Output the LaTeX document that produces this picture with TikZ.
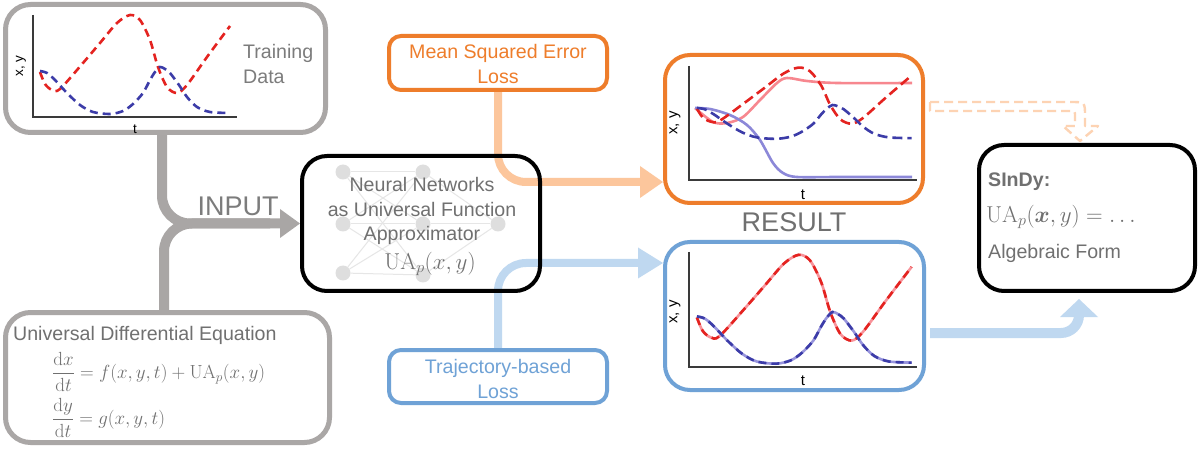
\RequirePackage{fix-cm}
\documentclass[tikz,border=0pt]{standalone}
\usepackage{amsmath}
\usepackage{bm}
\usepackage[no-math]{fontspec}
\setmainfont{Liberation Sans}
\usetikzlibrary{arrows.meta,calc}
\pgfdeclarelayer{bgfill}
\pgfdeclarelayer{background}
\pgfsetlayers{bgfill,background,main}
\definecolor{boxgray}{HTML}{AAA7A6}
\definecolor{arrgray}{HTML}{A9A6A5}
\definecolor{txtgray}{HTML}{707070}
\definecolor{txtlgray}{HTML}{7C7C7C}
\definecolor{orng}{HTML}{EE7D2B}
\definecolor{lorng}{HTML}{FCC69C}
\definecolor{llorng}{HTML}{FDD3B3}
\definecolor{blu}{HTML}{6FA2D6}
\definecolor{lblu}{HTML}{BFD8F0}
\definecolor{dred}{HTML}{E42320}
\definecolor{dblue}{HTML}{3C3CA8}
\definecolor{pinkc}{HTML}{F7878F}
\definecolor{lavc}{HTML}{8C88D8}
\definecolor{nngray}{HTML}{DEDEDE}
\definecolor{nnline}{HTML}{E6E6E6}
\definecolor{axc}{HTML}{3A3A3A}
\newcommand{\mkRedCurve}[1]{\draw[#1] plot[smooth] coordinates {(7,45) (12,33) (19,27) (27,28) (50,54) (67,74) (84,94) (97,102) (107,97) (117,77) (125,50) (134,30) (144,24) (154,32) (174,60) (197,91)};}
\newcommand{\mkBlueCurve}[1]{\draw[#1] plot[smooth] coordinates {(7,46) (14,44) (22,37) (34,24) (47,12) (60,5) (77,3) (90,6) (100,13) (110,24) (117,37) (122,45) (127,50) (132,48) (137,44) (146,32) (154,20) (164,10) (177,5) (197,4)};}
\begin{document}
\begin{tikzpicture}[x=1pt,y=-1pt,
  rbox/.style={draw, rounded corners=#1, inner sep=0pt},
  rbox/.default=25pt,
  lbl/.style={font=\fontsize{19.6}{24.5}\selectfont, text=txtgray, inner sep=0pt},
  biglbl/.style={font=\fontsize{27}{30}\selectfont, inner sep=0pt},
  axline/.style={draw=axc, line width=1.4pt},
  smalllbl/.style={font=\fontsize{15}{17}\selectfont, text=black, inner sep=0pt},
  tinylbl/.style={font=\fontsize{13.5}{15}\selectfont, text=black, inner sep=0pt},
  dcurve/.style={line width=2.6pt, dash pattern=on 8pt off 5pt},
  scurve/.style={line width=2.6pt},
  nnode/.style={circle, fill=nngray, minimum size=15pt, inner sep=0pt},
  nnedge/.style={draw=nnline, line width=1pt},
  grayarrow/.style={line width=10pt, draw=arrgray, rounded corners=28pt},
  orarrow/.style={line width=8pt, draw=lorng, rounded corners=28pt},
  blarrow/.style={line width=8pt, draw=lblu, rounded corners=28pt},
]
\useasboundingbox (0,0) rectangle (1200,449);
\begin{pgfonlayer}{bgfill}
\fill[white] (0,0) rectangle (1200,449);
\end{pgfonlayer}

% ---------- boxes ----------
\node[rbox, draw=boxgray, line width=5pt, minimum width=320pt, minimum height=128pt] (train) at (165.5,68.5) {};
\node[rbox, draw=boxgray, line width=5pt, minimum width=324pt, minimum height=130pt] (ude) at (167.5,377.5) {};
\node[rbox=12pt, draw=orng, line width=4pt, minimum width=218pt, minimum height=54pt] (mse) at (498,63) {};
\node[rbox=12pt, draw=blu, line width=4pt, minimum width=218pt, minimum height=53pt] (traj) at (498,376.5) {};
\node[rbox, draw=orng, line width=4pt, minimum width=258pt, minimum height=148pt] (res1) at (794,129) {};
\node[rbox, draw=blu, line width=4pt, minimum width=259pt, minimum height=148pt] (res2) at (794.5,316) {};
\node[rbox, draw=black, line width=4pt, minimum width=216pt, minimum height=146pt] (sindy) at (1087,218) {};

% ---------- neural network background ----------
\node[nnode] (a1) at (343,172) {};
\node[nnode] (a2) at (343,224) {};
\node[nnode] (a3) at (343,273) {};
\node[nnode] (b1) at (423,172) {};
\node[nnode] (b2) at (423,224) {};
\node[nnode] (b3) at (423,275) {};
\node[nnode] (c1) at (498,224) {};
\foreach \i in {1,2,3}{
  \foreach \j in {1,2,3}{\draw[nnedge] (a\i) -- (b\j);}
  \draw[nnedge] (b\i) -- (c1);
}
\node[lbl, align=center, text=txtgray] (nntxt) at (422,211) {Neural Networks\\as Universal Function\\Approximator};
\node[inner sep=0pt, text=txtgray, font=\fontsize{23}{27}\selectfont] (nnua) at (430,264) {$\mathrm{UA}_p(x,y)$};
\node[rbox, draw=black, line width=4pt, minimum width=238pt, minimum height=135pt] (nn) at (421,223.5) {};

% ---------- connectors (behind boxes) ----------
\begin{pgfonlayer}{background}
\draw[grayarrow, -{Triangle[width=29pt,length=20pt,line width=0pt]}] ([xshift=-3.5pt]train.south) |- (nn.west);
\draw[grayarrow] ([xshift=-3.5pt]ude.north) |- ([xshift=-30pt]nn.west);
\draw[orarrow, -{Triangle[width=32pt,length=23pt,line width=0pt]}] (mse.south) |- ([yshift=-53pt]res1.west);
\draw[blarrow, -{Triangle[width=31pt,length=25pt,line width=0pt]}] (traj.north) |- ([yshift=53pt]res2.west);
\draw[line width=10pt, draw=lblu, rounded corners=18pt, -{Triangle[width=38pt,length=18pt,line width=0pt]}] ([xshift=4pt,yshift=-17pt]res2.east) -| ([xshift=-8pt,yshift=-6pt]sindy.south);
\coordinate (dt) at ([xshift=-7pt,yshift=2pt]sindy.north);
\coordinate (ds) at ([xshift=5pt]res1.east);
\coordinate (dA) at ($(dt)+(0,-39)$);
\coordinate (dK) at ($(dt)+(0,-30)$);
\draw[draw=llorng, line width=2.4pt, dash pattern=on 9pt off 5pt, line join=round]
  (ds |- dA) -- ($(dt)+(-10,-39)$) .. controls ($(dt)+(5,-39)$) .. ($(dt)+(5,-25)$)
  -- ($(dt)+(5,-15)$) -- ($(dt)+(18,-15)$) -- (dt) -- ($(dt)+(-17,-15)$) -- ($(dt)+(-5,-15)$)
  -- ($(dt)+(-5,-25)$) .. controls ($(dt)+(-5,-30)$) .. ($(dt)+(-10,-30)$) -- (ds |- dK) -- cycle;
\end{pgfonlayer}

% ---------- texts ----------
\node[lbl, align=left, anchor=west, text=txtlgray] (tdtxt) at (243,64) {Training\\Data};
\node[biglbl, text=txtlgray] (inputtxt) at (238,206) {INPUT};
\node[biglbl, text=txtgray] (resulttxt) at (794,222) {RESULT};
\node[lbl, anchor=west] (udetxt) at (13,335) {Universal Differential Equation};
\node[inner sep=0pt, anchor=west, text=txtgray, font=\fontsize{19}{24}\selectfont] (eq1) at (52,372) {$\displaystyle\frac{\mathrm{d}x}{\mathrm{d}t} = f(x,y,t)+\mathrm{UA}_p(x,y)$};
\node[inner sep=0pt, anchor=west, text=txtgray, font=\fontsize{19}{24}\selectfont] (eq2) at (52,418) {$\displaystyle\frac{\mathrm{d}y}{\mathrm{d}t} = g(x,y,t)$};
\node[lbl, align=center, text=orng] (msetxt) at (498,64) {Mean Squared Error\\Loss};
\node[lbl, align=center, text=blu] (trajtxt) at (498,379) {Trajectory-based\\Loss};
\node[lbl, anchor=west, font=\fontsize{19.6}{24}\selectfont\bfseries] (sindyh) at (988,182) {SInDy:};
\node[inner sep=0pt, anchor=west, text=txtgray, font=\fontsize{23}{27}\selectfont] (sindyeq) at (986,217) {$\mathrm{UA}_p(\bm{x},y) = \dots$};
\node[lbl, anchor=west] (sindyalg) at (988,253) {Algebraic Form};

% ---------- training plot ----------
\draw[axline] (33,15) -- (33,117) -- (237,117);
\node[tinylbl] (tt) at (135,129) {t};
\node[tinylbl, rotate=90] (txy) at (21,66) {x, y};
\begin{scope}[shift={(33,117)}, yscale=-1]
  \mkRedCurve{dred, dcurve}
  \mkBlueCurve{dblue, dcurve}
\end{scope}

% ---------- result 1 ----------
\draw[axline] (689,66) -- (689,180) -- (917,180);
\node[smalllbl] (r1t) at (803,195) {t};
\node[smalllbl, rotate=90] (r1xy) at (675,123) {x, y};
\begin{scope}[shift={(689,180)}, yscale=-1]
  \draw[pinkc, scurve] plot[smooth] coordinates {(6,72) (24,58) (38,57) (54,63) (71,80) (88,97) (98,102) (118,99) (148,97) (223,97)};
  \draw[lavc, scurve] plot[smooth] coordinates {(6,72) (21,71) (41,65) (58,55) (71,40) (84,17) (94,7) (108,3) (150,3) (223,3)};
\end{scope}
\begin{scope}[shift={(689,141)}, xscale=1.13, yscale=-0.72]
  \mkRedCurve{dred, dcurve, dash pattern=on 10pt off 5pt}
  \mkBlueCurve{dblue, dcurve, dash pattern=on 10pt off 5pt}
\end{scope}

% ---------- result 2 ----------
\draw[axline] (689,252) -- (689,367) -- (917,367);
\node[smalllbl] (r2t) at (803,381) {t};
\node[smalllbl, rotate=90] (r2xy) at (675,312) {x, y};
\begin{scope}[shift={(689,367)}, xscale=1.13, yscale=-1.1]
  \mkRedCurve{pinkc!90!white, scurve}
  \mkBlueCurve{lavc!90!white, scurve}
  \mkRedCurve{dred, dcurve}
  \mkBlueCurve{dblue, dcurve}
\end{scope}
\end{tikzpicture}
\end{document}
